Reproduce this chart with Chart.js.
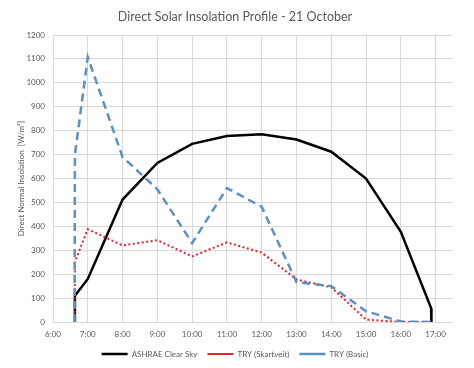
<!DOCTYPE html>
<html>
<head>
<meta charset="utf-8">
<script src="https://cdn.jsdelivr.net/npm/chart.js@4.4.0/dist/chart.umd.min.js"></script>
<style>
    html, body { margin: 0; padding: 0; background: #fff; }
    #wrap { width: 474px; height: 368px; }
</style>
</head>
<body>
<div id="wrap"><canvas id="solarChart"></canvas></div>
<script>
// hours of the day (decimal), sunrise ~6:37, sunset ~16:52
const hours = [6.62, 6.63, 7, 8, 9, 10, 11, 12, 13, 14, 15, 16, 16.87, 16.88];
const ashraeClearSky = [0, 110, 180, 512, 665, 745, 778, 785, 763, 712, 600, 377, 58, 0];
const trySkartveit = [0, 252, 388, 320, 342, 274, 333, 290, 178, 145, 10, 0, 0, 0];
const tryBasic = [0, 700, 1107, 690, 555, 330, 560, 482, 167, 150, 45, 2, 0, 0];

const xTickLabels = ['6:00', '7:00', '8:00', '9:00', '10:00', '11:00', '12:00',
    '13:00', '14:00', '15:00', '16:00', '17:00'];

const textColor = '#595959';
const gridColor = '#d9d9d9';

Chart.defaults.font.family = 'Lato, sans-serif';
Chart.defaults.color = textColor;

function toPoints(values) {
    return hours.map((h, i) => ({ x: h, y: values[i] }));
}

new Chart(document.getElementById('solarChart'), {
    type: 'line',
    data: {
        datasets: [
            {
                label: 'ASHRAE Clear Sky',
                data: toPoints(ashraeClearSky),
                borderColor: '#000000',
                backgroundColor: '#000000',
                borderWidth: 2.5,
                order: 3
            },
            {
                label: 'TRY (Skartveit)',
                data: toPoints(trySkartveit),
                borderColor: '#e3242b',
                backgroundColor: '#e3242b',
                borderWidth: 2,
                borderDash: [2, 2.5],
                order: 2
            },
            {
                label: 'TRY (Basic)',
                data: toPoints(tryBasic),
                borderColor: '#5b8fc7',
                backgroundColor: '#5b8fc7',
                borderWidth: 2.5,
                borderDash: [8, 5],
                order: 1
            }
        ]
    },
    options: {
        responsive: true,
        maintainAspectRatio: false,
        animation: false,
        elements: {
            point: { radius: 0 },
            line: { tension: 0, fill: false, borderCapStyle: 'butt' }
        },
        layout: {
            padding: { left: 17, right: 21, top: 5, bottom: 0 }
        },
        plugins: {
            title: {
                display: true,
                text: 'Direct Solar Insolation Profile - 21 October',
                font: { size: 12.5, weight: 'normal' },
                color: textColor,
                padding: { top: 4, bottom: 11 }
            },
            legend: {
                position: 'bottom',
                labels: {
                    usePointStyle: true,
                    pointStyle: 'line',
                    pointStyleWidth: 26,
                    boxHeight: 6,
                    padding: 10,
                    font: { size: 8 },
                    color: textColor,
                    sort: (a, b) => a.datasetIndex - b.datasetIndex
                }
            },
            tooltip: { enabled: false }
        },
        scales: {
            x: {
                type: 'linear',
                min: 6,
                max: 17.5,
                afterFit: function (scale) { scale.height = 18; },
                ticks: {
                    stepSize: 1,
                    includeBounds: false,
                    autoSkip: false,
                    maxRotation: 0,
                    padding: 8,
                    font: { size: 8 },
                    color: textColor,
                    callback: function (value) {
                        return xTickLabels[Math.round(value - 6)];
                    }
                },
                grid: { color: gridColor, drawTicks: false },
                border: { display: false }
            },
            y: {
                min: 0,
                max: 1200,
                afterFit: function (scale) { scale.width = 36; },
                ticks: {
                    stepSize: 100,
                    padding: 8,
                    font: { size: 8 },
                    color: textColor,
                    callback: function (value) { return String(value); }
                },
                grid: { color: gridColor, drawTicks: false },
                border: { display: false },
                title: {
                    display: true,
                    text: 'Direct Normal Insolation  [W/m\u00B2]',
                    font: { size: 8 },
                    color: textColor,
                    padding: { top: 0, bottom: 0 }
                }
            }
        }
    }
});
</script>
</body>
</html>
